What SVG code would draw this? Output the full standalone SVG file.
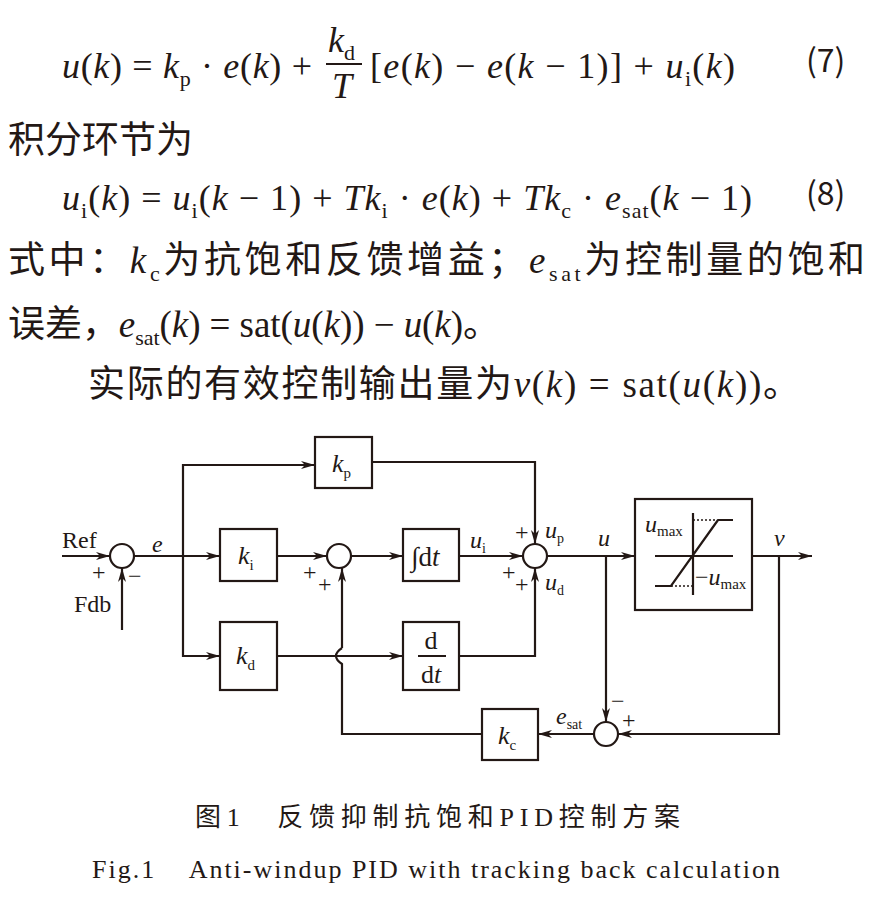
<svg xmlns="http://www.w3.org/2000/svg" width="878" height="899" viewBox="0 0 878 899">
<defs>
<marker id="ar" viewBox="0 0 14 8" refX="14" refY="4" markerWidth="14" markerHeight="8" orient="auto" markerUnits="userSpaceOnUse"><path d="M0,0 L14,4 L0,8 L4,4 Z" fill="#231815"/></marker>
</defs>
<style>
.s{font-family:"Liberation Serif",serif;fill:#231815}
.i{font-style:italic}
.c{font-family:"Liberation Serif","Noto Sans CJK SC",serif;fill:#231815}
.b{fill:#fff;stroke:#231815;stroke-width:2.2}
.l{fill:none;stroke:#231815;stroke-width:2.2}
.a{fill:none;stroke:#231815;stroke-width:2.2;marker-end:url(#ar)}
</style>
<rect width="878" height="899" fill="#fff"/>
<g id="eq7" class="s" font-size="36">
<text x="62" y="78" textLength="250" lengthAdjust="spacing"><tspan class="i">u</tspan>(<tspan class="i">k</tspan>) = <tspan class="i">k</tspan><tspan font-size="22" dy="8">p</tspan><tspan dy="-8"> · </tspan><tspan class="i">e</tspan>(<tspan class="i">k</tspan>) +</text>
<text x="328" y="52" class="i">k<tspan font-size="22" dy="8" font-style="normal">d</tspan></text>
<line x1="326" y1="64" x2="362" y2="64" stroke="#231815" stroke-width="2"/>
<text x="332" y="98" class="i">T</text>
<text x="370" y="78" textLength="365" lengthAdjust="spacing">[<tspan class="i">e</tspan>(<tspan class="i">k</tspan>) − <tspan class="i">e</tspan>(<tspan class="i">k</tspan> − 1)] + <tspan class="i">u</tspan><tspan font-size="22" dy="8">i</tspan><tspan dy="-8">(</tspan><tspan class="i">k</tspan>)</text>
<text x="806" y="72" font-family="Noto Sans CJK SC,sans-serif" font-size="32">(7)</text>
</g>
<text x="8" y="153" class="c" font-size="37">积分环节为</text>
<g id="eq8" class="s" font-size="36">
<text x="62" y="210" textLength="690" lengthAdjust="spacing"><tspan class="i">u</tspan><tspan font-size="22" dy="8">i</tspan><tspan dy="-8">(</tspan><tspan class="i">k</tspan>) = <tspan class="i">u</tspan><tspan font-size="22" dy="8">i</tspan><tspan dy="-8">(</tspan><tspan class="i">k</tspan> − 1) + <tspan class="i">Tk</tspan><tspan font-size="22" dy="8">i</tspan><tspan dy="-8"> · </tspan><tspan class="i">e</tspan>(<tspan class="i">k</tspan>) + <tspan class="i">Tk</tspan><tspan font-size="22" dy="8">c</tspan><tspan dy="-8"> · </tspan><tspan class="i">e</tspan><tspan font-size="22" dy="8">sat</tspan><tspan dy="-8">(</tspan><tspan class="i">k</tspan> − 1)</text>
<text x="806" y="205" font-family="Noto Sans CJK SC,sans-serif" font-size="32">(8)</text>
</g>
<text x="8" y="273" class="c" font-size="37" textLength="857" lengthAdjust="spacing">式中：<tspan class="i" font-family="Liberation Serif">k</tspan><tspan font-size="22" dy="8">c</tspan><tspan dy="-8">为抗饱和反馈增益；</tspan><tspan class="i" font-family="Liberation Serif">e</tspan><tspan font-size="22" dy="8">sat</tspan><tspan dy="-8">为控制量的饱和</tspan></text>
<text x="8" y="337" class="c" font-size="37" textLength="492" lengthAdjust="spacing">误差，<tspan class="i" font-family="Liberation Serif">e</tspan><tspan font-size="22" dy="8">sat</tspan><tspan dy="-8">(</tspan><tspan class="i">k</tspan>) = sat(<tspan class="i">u</tspan>(<tspan class="i">k</tspan>)) − <tspan class="i">u</tspan>(<tspan class="i">k</tspan>)。</text>
<text x="88" y="397" class="c" font-size="37" textLength="712" lengthAdjust="spacing">实际的有效控制输出量为<tspan class="i" font-family="Liberation Serif">v</tspan>(<tspan class="i">k</tspan>) = sat(<tspan class="i">u</tspan>(<tspan class="i">k</tspan>))。</text>

<g id="connectors">
<path class="a" d="M62,556 H110"/>
<path class="a" d="M122,630 V568"/>
<path class="l" d="M134,556 H183"/>
<path class="a" d="M183,556 V465 H315"/>
<path class="a" d="M183,556 H220"/>
<path class="a" d="M183,556 V656 H220"/>
<path class="a" d="M277,556 H327"/>
<path class="a" d="M351,556 H403"/>
<path class="a" d="M459,556 H523"/>
<path class="a" d="M372,462 H535 V544"/>
<path class="a" d="M459,656 H535 V568"/>
<path class="a" d="M277,656 H403"/>
<path class="a" d="M547,556 H635"/>
<path class="a" d="M606,556 V722"/>
<path class="a" d="M752,556 H812"/>
<path class="a" d="M779,556 V734 H618"/>
<path class="a" d="M594,734 H538"/>
<path class="l" d="M482,734 H342 V664 Q336,660 336,656 Q336,652 342,648"/>
<path class="a" d="M342,648 V568"/>
</g>
<g id="sum1"><circle class="b" cx="122" cy="556" r="12"/></g>
<g id="sum2"><circle class="b" cx="339" cy="556" r="12"/></g>
<g id="sum3"><circle class="b" cx="535" cy="556" r="12"/></g>
<g id="sum4"><circle class="b" cx="606" cy="734" r="12"/></g>
<g id="kp"><rect class="b" x="315" y="437" width="57" height="51"/><text x="332" y="472" class="s i" font-size="26">k<tspan font-size="15" dy="6" font-style="normal">p</tspan></text></g>
<g id="ki"><rect class="b" x="220" y="529" width="57" height="52"/><text x="238" y="564" class="s i" font-size="26">k<tspan font-size="15" dy="6" font-style="normal">i</tspan></text></g>
<g id="int"><rect class="b" x="403" y="529" width="56" height="52"/><text x="411" y="566" class="s" font-size="27">∫d<tspan class="i">t</tspan></text></g>
<g id="kd"><rect class="b" x="220" y="622" width="57" height="68"/><text x="236" y="664" class="s i" font-size="26">k<tspan font-size="15" dy="6" font-style="normal">d</tspan></text></g>
<g id="ddt"><rect class="b" x="403" y="622" width="56" height="68"/><text x="431" y="649" class="s" font-size="26" text-anchor="middle">d</text><line x1="418" y1="656" x2="446" y2="656" stroke="#231815" stroke-width="2"/><text x="431" y="683" class="s" font-size="26" text-anchor="middle">d<tspan class="i">t</tspan></text></g>
<g id="kc"><rect class="b" x="482" y="709" width="56" height="51"/><text x="498" y="744" class="s i" font-size="26">k<tspan font-size="15" dy="6" font-style="normal">c</tspan></text></g>
<g id="sat">
<rect class="b" x="635" y="499" width="117" height="111"/>
<path class="l" d="M655,556 H733 M693,513 V595 M718,520 H733 M718,520 L671,586 H655"/>
<path d="M693,520 H718 M671,586 H693" stroke="#231815" stroke-width="1.5" stroke-dasharray="2,2"/>
<text x="645" y="532" class="s i" font-size="24">u<tspan font-size="15" dy="4" font-style="normal">max</tspan></text>
<text x="695" y="585" class="s" font-size="24">−<tspan class="i">u</tspan><tspan font-size="15" dy="4">max</tspan></text>
</g>
<g class="s" font-size="24">
<text x="62" y="548">Ref</text>
<text x="92" y="580">+</text>
<text x="128" y="584">−</text>
<text x="74" y="612">Fdb</text>
<text x="152" y="552" class="i">e</text>
<text x="303" y="580">+</text>
<text x="318" y="592">+</text>
<text x="470" y="548" class="i">u<tspan font-size="14" dy="5" font-style="normal">i</tspan></text>
<text x="515" y="540">+</text>
<text x="545" y="538" class="i">u<tspan font-size="14" dy="5" font-style="normal">p</tspan></text>
<text x="502" y="580">+</text>
<text x="515" y="592">+</text>
<text x="545" y="590" class="i">u<tspan font-size="14" dy="5" font-style="normal">d</tspan></text>
<text x="598" y="546" class="i">u</text>
<text x="774" y="546" class="i">v</text>
<text x="556" y="724" class="i">e<tspan font-size="14" dy="5" font-style="normal">sat</tspan></text>
<text x="611" y="709">−</text>
<text x="622" y="728">+</text>
</g>
<text x="195" y="826" class="c" font-size="26" textLength="485" lengthAdjust="spacing">图1　反馈抑制抗饱和PID控制方案</text>
<text x="92" y="878" class="s" font-size="26" textLength="688" lengthAdjust="spacing" xml:space="preserve">Fig.1    Anti-windup PID with tracking back calculation</text>
</svg>
